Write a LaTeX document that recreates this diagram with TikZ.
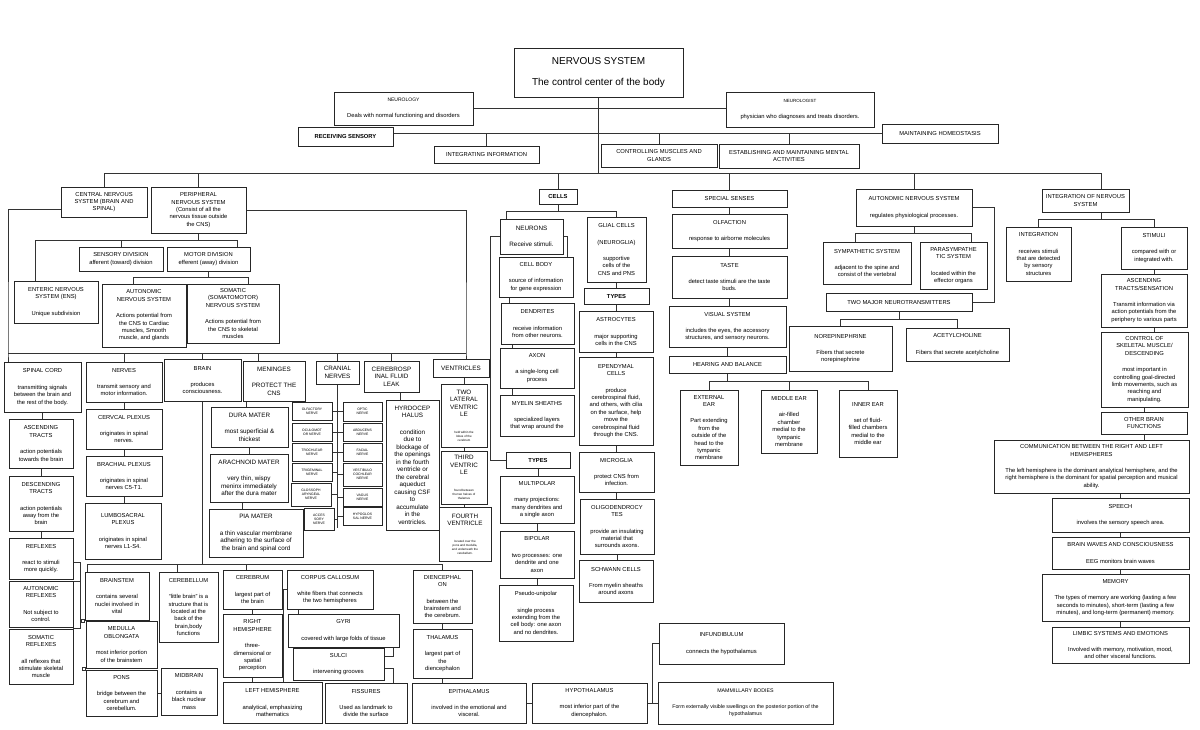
\documentclass[tikz,border=0pt]{standalone}
\usepackage{fontspec}
\setmainfont{Liberation Sans}
\usetikzlibrary{calc}
\pgfdeclarelayer{bg}
\pgfsetlayers{bg,main}
\newcommand\gp{\\[9pt]}
\newcommand\smbr{\\[-3.4pt]}
\newcommand\sm[1]{{\fontsize{3}{3.7}\selectfont #1}}
\newcommand\bxn[7][]{%
  \pgfmathsetmacro\bw{#5-#3}%
  \pgfmathsetmacro\bh{#6-#4}%
  \pgfmathsetmacro\bcx{(#3+#5)/2}%
  \pgfmathsetmacro\bcy{(#4+#6)/2}%
  \node[bx,minimum width=\bw pt,minimum height=\bh pt,#1] (#2) at (\bcx,\bcy) {#7};}
\newcommand\vl[2]{\draw[conn] (#1.south) -- (#1.south |- #2.north);}
\tikzset{
  bx/.style={draw=black!85, line width=0.9pt, fill=white, align=center, inner xsep=2pt, inner ysep=1pt,
    font=\fontsize{5.8}{7.4}\selectfont, text=black},
  fbig/.style={font=\fontsize{6.3}{7.5}\selectfont},
  fcn/.style={font=\fontsize{3.4}{4.1}\selectfont, line width=0.7pt},
  conn/.style={draw=black!80, line width=0.8pt}
}
\begin{document}
\begin{tikzpicture}[x=1pt,y=-1pt]
\useasboundingbox (0,0) rectangle (1200,729);
% ---------- top
\bxn[font=\fontsize{10}{12}\selectfont]{ns}{514}{48}{683}{97}{NERVOUS SYSTEM\\[9pt]The control center of the body}
\bxn{neurology}{334}{92}{473}{125}{{\fontsize{5}{6}\selectfont NEUROLOGY}\gp Deals with normal functioning and disorders}
\bxn{neurologist}{726}{92}{874}{127}{{\fontsize{4.5}{6}\selectfont NEUROLOGIST}\gp physician who diagnoses and treats disorders.}
\bxn{recv}{298}{127}{393}{146}{\textbf{RECEIVING SENSORY}}
\bxn{maint}{882}{124}{998}{143}{MAINTAINING HOMEOSTASIS}
\bxn{integ}{434}{146}{539}{163}{INTEGRATING INFORMATION}
\bxn{ctrl}{601}{144}{717}{167}{CONTROLLING MUSCLES AND\\GLANDS}
\bxn{estab}{719}{144}{859}{168}{ESTABLISHING AND MAINTAINING MENTAL\\ACTIVITIES}
% ---------- CNS / PNS
\bxn{cns}{61}{187}{147}{217}{CENTRAL NERVOUS\\SYSTEM (BRAIN AND\\SPINAL)}
\bxn{pns}{151}{187}{246}{233}{PERIPHERAL\\NERVOUS SYSTEM\\(Consist of all the\\nervous tissue outside\\the CNS)}
\bxn{sens}{79}{247}{163}{271}{SENSORY DIVISION\\afferent (toward) division}
\bxn{motor}{167}{247}{250}{271}{MOTOR DIVISION\\efferent (away) division}
\bxn{enteric}{14}{281}{98}{323}{ENTERIC NERVOUS\\SYSTEM (ENS)\gp Unique subdivision}
\bxn{auto}{102}{284}{186}{347}{AUTONOMIC\\NERVOUS SYSTEM\gp Actions potential from\\the CNS to Cardiac\\muscles, Smooth\\muscle, and glands}
\bxn{soma}{187}{284}{279}{343}{SOMATIC\\(SOMATOMOTOR)\\NERVOUS SYSTEM\gp Actions potential from\\the CNS to skeletal\\muscles}
% ---------- row
\bxn{spinal}{4}{362}{81}{412}{SPINAL CORD\gp transmitting signals\\between the brain and\\the rest of the body.}
\bxn{nerves}{86}{362}{162}{402}{NERVES\gp transmit sensory and\\motor information.}
\bxn{brain}{164}{359}{241}{401}{BRAIN\gp produces\\consciousness.}
\bxn[fbig]{meninges}{243}{361}{305}{401}{MENINGES\gp PROTECT THE\\CNS}
\bxn[fbig]{cranial}{316}{361}{359}{384}{CRANIAL\\NERVES}
\bxn[fbig]{csf}{364}{361}{419}{392}{CEREBROSP\\INAL FLUID\\LEAK}
\bxn[fbig]{vent}{433}{359}{489}{377}{VENTRICLES}
% spinal column
\bxn{asc}{9}{419}{73}{468}{ASCENDING\\TRACTS\gp action potentials\\towards the brain}
\bxn{desc}{9}{476}{73}{531}{DESCENDING\\TRACTS\gp action potentials\\away from the\\brain}
\bxn{refl}{9}{538}{73}{579}{REFLEXES\gp react to stimuli\\more quickly.}
\bxn{arefl}{9}{581}{73}{627}{AUTONOMIC\\REFLEXES\gp Not subject to\\control.}
\bxn{srefl}{9}{629}{73}{684}{SOMATIC\\REFLEXES\gp all reflexes that\\stimulate skeletal\\muscle}
% nerves column
\bxn{cerv}{86}{409}{162}{449}{CERVCAL PLEXUS\gp originates in spinal\\nerves.}
\bxn{brach}{86}{456}{162}{496}{BRACHIAL PLEXUS\gp originates in spinal\\nerves C5-T1.}
\bxn{lumbo}{85}{503}{161}{559}{LUMBOSACRAL\\PLEXUS\gp originates in spinal\\nerves L1-S4.}
% meninges
\bxn[fbig]{dura}{211}{407}{288}{447}{DURA MATER\gp most superficial \&\\thickest}
\bxn[fbig]{arach}{210}{454}{288}{502}{ARACHNOID MATER\gp very thin, wispy\\meninx immediately\\after the dura mater}
\bxn[fbig]{pia}{209}{509}{303}{557}{PIA MATER\gp a thin vascular membrane\\adhering to the surface of\\the brain and spinal cord}
% cranial nerves
\bxn[fcn]{olf}{292}{402}{332}{420}{OLFACTORY\\NERVE}
\bxn[fcn]{ocu}{292}{423}{332}{441}{OCULOMOT\\OR NERVE}
\bxn[fcn]{troch}{292}{443}{332}{461}{TROCHLEAR\\NERVE}
\bxn[fcn]{trig}{292}{463}{332}{481}{TRIGEMINAL\\NERVE}
\bxn[fcn]{glos}{291}{483}{331}{506}{GLOSSOPH\\ARYNGEAL\\NERVE}
\bxn[fcn]{acc}{304}{508}{334}{530}{ACCES\\SORY\\NERVE}
\bxn[fcn]{opt}{343}{402}{382}{421}{OPTIC\\NERVE}
\bxn[fcn]{abd}{343}{423}{382}{441}{ABDUCENS\\NERVE}
\bxn[fcn]{fac}{343}{443}{382}{461}{FACIAL\\NERVE}
\bxn[fcn]{vest}{343}{463}{382}{486}{VESTIBULO\\COCHLEAR\\NERVE}
\bxn[fcn]{vag}{343}{488}{382}{506}{VAGUS\\NERVE}
\bxn[fcn]{hypog}{343}{507}{382}{525}{HYPOGLOS\\SAL NERVE}
% csf / ventricles
\bxn[fbig]{hydro}{386}{400}{439}{530}{HYRDOCEP\\HALUS\gp condition\\due to\\blockage of\\the openings\\in the fourth\\ventricle or\\the cerebral\\aqueduct\\causing CSF\\to\\accumulate\\in the\\ventricles.}
\bxn[fbig]{lat}{441}{384}{487}{447}{TWO\\LATERAL\\VENTRIC\\LE\gp \sm{held within the}\smbr\sm{lobes of the}\smbr\sm{cerebrum}}
\bxn[fbig]{third}{441}{451}{487}{504}{THIRD\\VENTRIC\\LE\gp \sm{found between}\smbr\sm{the two halves of}\smbr\sm{thalamus}}
\bxn[fbig]{fourth}{439}{507}{491}{561}{FOURTH\\VENTRICLE\gp \sm{located over the}\smbr\sm{pons and medulla,}\smbr\sm{and underneath the}\smbr\sm{cerebellum.}}
% brain parts
\bxn{bstem}{85}{572}{149}{620}{BRAINSTEM\gp contains several\\nuclei involved in\\vital}
\bxn{cereb}{159}{572}{218}{642}{CEREBELLUM\gp ``little brain'' is a\\structure that is\\located at the\\back of the\\brain,body\\functions}
\bxn{medulla}{86}{621}{157}{668}{MEDULLA\\OBLONGATA\gp most inferior portion\\of the brainstem}
\bxn{pons}{86}{670}{157}{716}{PONS\gp bridge between the\\cerebrum and\\cerebellum.}
\bxn{midbrain}{161}{668}{217}{715}{MIDBRAIN\gp contains a\\black nuclear\\mass}
\bxn{cerebrum}{223}{570}{282}{609}{CEREBRUM\gp largest part of\\the brain}
\bxn{righth}{223}{614}{282}{677}{RIGHT\\HEMISPHERE\gp three-\\dimensional or\\spatial\\perception}
\bxn{lefth}{223}{682}{322}{723}{LEFT HEMISPHERE\gp analytical, emphasizing\\mathematics}
\bxn{corpus}{287}{570}{373}{609}{CORPUS CALLOSUM\gp white fibers that connects\\the two hemispheres}
\bxn{gyri}{288}{614}{399}{647}{GYRI\gp covered with large folds of tissue}
\bxn{sulci}{293}{648}{384}{680}{SULCI\gp intervening grooves}
\bxn{fiss}{325}{683}{407}{723}{FISSURES\gp Used as landmark to\\divide the surface}
\bxn{dien}{413}{570}{472}{623}{DIENCEPHAL\\ON\gp between the\\brainstem and\\the cerebrum.}
\bxn{thal}{413}{629}{472}{678}{THALAMUS\gp largest part of\\the\\diencephalon}
\bxn{epi}{412}{683}{526}{723}{EPITHALAMUS\gp involved in the emotional and\\visceral.}
\bxn{hypo}{532}{683}{647}{723}{HYPOTHALAMUS\gp most inferior part of the\\diencephalon.}
\bxn{infund}{659}{623}{784}{664}{INFUNDIBULUM\gp connects the hypothalamus}
\bxn[font=\fontsize{5.3}{7}\selectfont]{mamm}{658}{682}{833}{724}{MAMMILLARY BODIES\gp Form externally visible swellings on the posterior portion of the\\hypothalamus}
% cells
\bxn{cells}{539}{189}{577}{204}{\textbf{CELLS}}
\bxn[fbig]{neurons}{500}{219}{563}{254}{NEURONS\gp Receive stimuli.}
\bxn{glial}{587}{217}{646}{282}{GLIAL CELLS\gp (NEUROGLIA)\gp supportive\\cells of the\\CNS and PNS}
\bxn{cellbody}{499}{257}{573}{297}{CELL BODY\gp source of information\\for gene expression}
\bxn{dend}{501}{303}{574}{344}{DENDRITES\gp receive information\\from other neurons.}
\bxn{axon}{500}{348}{574}{388}{AXON\gp a single-long cell\\process}
\bxn{myelin}{500}{395}{574}{436}{MYELIN SHEATHS\gp specialized layers\\that wrap around the}
\bxn{ntypes}{506}{452}{570}{468}{\textbf{TYPES}}
\bxn{multi}{500}{476}{574}{523}{MULTIPOLAR\gp many projections:\\many dendrites and\\a single axon}
\bxn{bi}{500}{531}{574}{578}{BIPOLAR\gp two processes: one\\dendrite and one\\axon}
\bxn{pseudo}{499}{585}{573}{641}{Pseudo-unipolar\gp single process\\extending from the\\cell body: one axon\\and no dendrites.}
\bxn{gtypes}{584}{288}{649}{304}{\textbf{TYPES}}
\bxn{astro}{579}{311}{653}{352}{ASTROCYTES\gp major supporting\\cells in the CNS}
\bxn{epen}{579}{357}{653}{445}{EPENDYMAL\\CELLS\gp produce\\cerebrospinal fluid,\\and others, with cilia\\on the surface, help\\move the\\cerebrospinal fluid\\through the CNS.}
\bxn{micro}{579}{452}{654}{492}{MICROGLIA\gp protect CNS from\\infection.}
\bxn{oligo}{580}{499}{654}{554}{OLIGODENDROCY\\TES\gp provide an insulating\\material that\\surrounds axons.}
\bxn{schw}{579}{560}{653}{602}{SCHWANN CELLS\gp From myelin sheaths\\around axons}
% special senses
\bxn{ss}{672}{190}{787}{207}{SPECIAL SENSES}
\bxn{olfa}{672}{214}{787}{248}{OLFACTION\gp response to airborne molecules}
\bxn{taste}{672}{256}{787}{298}{TASTE\gp detect taste stimuli are the taste\\buds.}
\bxn{visual}{669}{306}{786}{347}{VISUAL SYSTEM\gp includes the eyes, the accessory\\structures, and sensory neurons.}
\bxn{hear}{669}{356}{786}{373}{HEARING AND BALANCE}
\bxn{ext}{680}{390}{738}{465}{EXTERNAL\\EAR\gp Part extending\\from the\\outside of the\\head to the\\tympanic\\membrane}
\bxn{mid}{761}{390}{817}{453}{MIDDLE EAR\gp air-filled\\chamber\\medial to the\\tympanic\\membrane}
\bxn{inner}{839}{390}{897}{457}{INNER EAR\gp set of fluid-\\filled chambers\\medial to the\\middle ear}
% autonomic
\bxn{ans}{856}{189}{972}{226}{AUTONOMIC NERVOUS SYSTEM\gp regulates physiological processes.}
\bxn{symp}{823}{242}{911}{284}{SYMPATHETIC SYSTEM\gp adjacent to the spine and\\consist of the vertebral}
\bxn{para}{920}{242}{987}{289}{PARASYMPATHE\\TIC SYSTEM\gp located within the\\effector organs}
\bxn{two}{826}{293}{972}{311}{TWO MAJOR NEUROTRANSMITTERS}
\bxn{norep}{789}{326}{892}{371}{NOREPINEPHRINE\gp Fibers that secrete\\norepinephrine}
\bxn{acet}{906}{328}{1009}{361}{ACETYLCHOLINE\gp Fibers that secrete acetylcholine}
% integration
\bxn{ins}{1042}{189}{1129}{212}{INTEGRATION OF NERVOUS\\SYSTEM}
\bxn{integ2}{1006}{227}{1071}{281}{INTEGRATION\gp receives stimuli\\that are detected\\by sensory\\structures}
\bxn{stim}{1121}{227}{1187}{269}{STIMULI\gp compared with or\\integrated with.}
\bxn{ascs}{1101}{274}{1187}{327}{ASCENDING\\TRACTS/SENSATION\gp Transmit information via\\action potentials from the\\periphery to various parts}
\bxn{ctrlsk}{1101}{332}{1188}{407}{CONTROL OF\\SKELETAL MUSCLE/\\DESCENDING\gp most important in\\controlling goal-directed\\limb movements, such as\\reaching and\\manipulating.}
\bxn{other}{1101}{412}{1187}{434}{OTHER BRAIN\\FUNCTIONS}
\bxn{comm}{994}{440}{1189}{493}{COMMUNICATION BETWEEN THE RIGHT AND LEFT\\HEMISPHERES\gp The left hemisphere is the dominant analytical hemisphere, and the\\right hemisphere is the dominant for spatial perception and musical\\ability.}
\bxn{speech}{1052}{498}{1189}{532}{SPEECH\gp involves the sensory speech area.}
\bxn{bw}{1052}{537}{1189}{569}{BRAIN WAVES AND CONSCIOUSNESS\gp EEG monitors brain waves}
\bxn{mem}{1042}{574}{1189}{621}{MEMORY\gp The types of memory are working (lasting a few\\seconds to minutes), short-term (lasting a few\\minutes), and long-term (permanent) memory.}
\bxn{limbic}{1052}{627}{1189}{663}{LIMBIC SYSTEMS AND EMOTIONS\gp Involved with memory, motivation, mood,\\and other visceral functions.}
% ================= connectors
\begin{pgfonlayer}{bg}
\fill[white] (0,0) rectangle (1200,729);
\coordinate (hubL) at (104,173);
\coordinate (hubR) at (1101,173);
\coordinate (b2) at (598,133);
\draw[conn] (ns.south) -- (ns.south |- hubL);
\draw[conn] (hubL) -- (hubR);
\draw[conn] (hubL) -- (cns.north);
\draw[conn] (pns.north |- hubL) -- (pns.north);
\draw[conn] (cells.north |- hubL) -- (cells.north);
\draw[conn] (ss.north |- hubL) -- (ss.north);
\draw[conn] (ans.north |- hubL) -- (ans.north);
\draw[conn] (hubR) -- ([xshift=15.5pt]ins.north);
\draw[conn] (neurology.east) -- (neurology.east -| neurologist.west);
\draw[conn] (recv.east |- b2) -- (maint.west |- b2);
\draw[conn] (integ.north |- b2) -- (integ.north);
\draw[conn] (ctrl.north |- b2) -- (ctrl.north);
\draw[conn] (estab.north |- b2) -- (estab.north);
% cns / pns
\coordinate (barL) at (8,353);
\coordinate (barR) at (466,353);
\draw[conn] ([yshift=-7pt]cns.west) -| (barL) -- (barL |- spinal.north);
\draw[conn] (barL) -- (barR);
\draw[conn] (pns.east) -| (barR) -- (barR |- vent.north);
\draw[conn] (nerves.north |- barL) -- (nerves.north);
\draw[conn] (brain.north |- barL) -- (brain.north);
\draw[conn] ([xshift=-16pt]meninges.north) -- ++(0,-8);
\draw[conn] (cranial.north |- barL) -- (cranial.north);
\draw[conn] (csf.north |- barL) -- (csf.north);
\draw[conn] (pns.south) -- ++(0,7) coordinate (pj);
\draw[conn] ([xshift=-21pt]enteric.north) |- (pj) -| ([xshift=28.5pt]motor.north);
\draw[conn] (sens.north) -- (sens.north |- pj);
\draw[conn] (motor.south) -- ++(0,6) coordinate (mj);
\draw[conn] ([xshift=-11pt]auto.north) |- (mj) -| ([xshift=15pt]soma.north);
% spinal
\vl{spinal}{asc}
\vl{asc}{desc}
\vl{desc}{refl}
\draw[conn] (refl.east) ++(0,3.5) -- ++(7,0) |- (srefl.north east);
\draw[conn] ([yshift=-1pt]arefl.north east) -- ++(7,0);
% nerves
\vl{nerves}{cerv}
\vl{cerv}{brach}
\vl{brach}{lumbo}
% brain
\draw[conn] (brain.south) -- ++(0,163) coordinate (bj);
\draw[conn] ([xshift=-30pt]bstem.north) |- (bj) -| (dien.north);
\draw[conn] ([xshift=-11.5pt]cereb.north) -- ++(0,-8);
\draw[conn] ([xshift=-6.5pt]cerebrum.north) -- ++(0,-6);
\draw[conn,line width=0.6pt] ([shift={(-3pt,-1.5pt)}]bstem.south west) rectangle ++(3,-3);
\draw[conn,line width=0.6pt] ([shift={(-3pt,-1.5pt)}]medulla.south west) rectangle ++(3,-3);
\draw[conn] (pons.east) -- (pons.east -| midbrain.west);
\vl{cerebrum}{righth}
\vl{righth}{lefth}
\draw[conn] (cerebrum.east) -- (cerebrum.east -| corpus.west);
\draw[conn] (cerebrum.east) -| ([xshift=10.5pt]lefth.north);
\draw[conn] ([xshift=12pt]corpus.south west) -- ++(0,5);
\draw[conn] ([xshift=-6pt]gyri.south east) |- ([yshift=-9pt]sulci.north east);
\draw[conn] ([yshift=-21pt]sulci.north east) -| ([xshift=27pt]fiss.north);
\vl{dien}{thal}
\vl{thal}{epi}
\draw[conn] (epi.east) -- (hypo.west);
\draw[conn] (hypo.east) -- ++(5,0) |- (infund.west);
\draw[conn] (hypo.east) -- ++(5,0) |- (mamm.west);
% meninges
\draw[conn] ([xshift=-28pt]meninges.south) -- ++(0,6);
\vl{dura}{arach}
\draw[conn] ([xshift=-7pt]arach.south) -- ++(0,7);
% cranial
\draw[conn] (cranial.south) -- ++(0,144);
\foreach \n in {olf,ocu,troch,trig,glos,acc} \draw[conn] (\n.east) -- (\n.east -| cranial.south);
\foreach \n in {opt,abd,fac,vest,vag,hypog} \draw[conn] (\n.west) -- (\n.west -| cranial.south);
% csf / ventricles
\draw[conn] ([xshift=8.5pt]csf.south) -- ++(0,8);
\draw[conn] (lat.north) -- (lat.north |- vent.south);
\vl{lat}{third}
\vl{third}{fourth}
% cells
\draw[conn] (cells.south) -- ++(0,7) coordinate (cj);
\draw[conn] ([xshift=-25.5pt]neurons.north) |- (cj) -| (glial.north);
\draw[conn] (neurons.east) -| ([xshift=31pt]cellbody.north);
\draw[conn] (neurons.west) -- ++(-9,0) |- (ntypes.west);
\draw[conn] ([xshift=-27pt]cellbody.south) -- ++(0,6);
\draw[conn] ([xshift=-25.5pt]dend.south) -- ++(0,4);
\draw[conn] ([xshift=-25pt]axon.south) -- ++(0,7);
\vl{ntypes}{multi}
\vl{multi}{bi}
\vl{bi}{pseudo}
\vl{glial}{gtypes}
\vl{gtypes}{astro}
\vl{astro}{epen}
\vl{epen}{micro}
\vl{micro}{oligo}
\vl{oligo}{schw}
% special senses
\vl{ss}{olfa}
\vl{olfa}{taste}
\vl{taste}{visual}
\vl{visual}{hear}
\draw[conn] (hear.south) -- ++(0,8) coordinate (hj);
\draw[conn] (ext.north) |- (hj) -| (inner.north);
\draw[conn] (mid.north) -- (mid.north |- hj);
% autonomic
\draw[conn] (ans.south) -- ++(0,7) coordinate (aj);
\draw[conn] ([xshift=-12pt]symp.north) |- (aj) -| ([xshift=17.5pt]para.north);
\draw[conn] (ans.east) -- ++(22,0) |- (two.east);
\draw[conn] (two.south) -- ++(0,8) coordinate (tj);
\draw[conn] (norep.north) |- (tj) -| (acet.north);
% integration
\draw[conn] ([xshift=15.5pt]ins.south) -- ++(0,7) coordinate (ij);
\draw[conn] (integ2.north) |- (ij) -| (stim.north);
\vl{stim}{ascs}
\draw[conn] ([xshift=10pt]ascs.south) -- ++(0,5);
\vl{ctrlsk}{other}
\vl{other}{comm}
\draw[conn] (speech.north) -- (speech.north |- comm.south);
\vl{speech}{bw}
\vl{bw}{mem}
\draw[conn] (limbic.north) -- (limbic.north |- mem.south);
\end{pgfonlayer}
\end{tikzpicture}
\end{document}
